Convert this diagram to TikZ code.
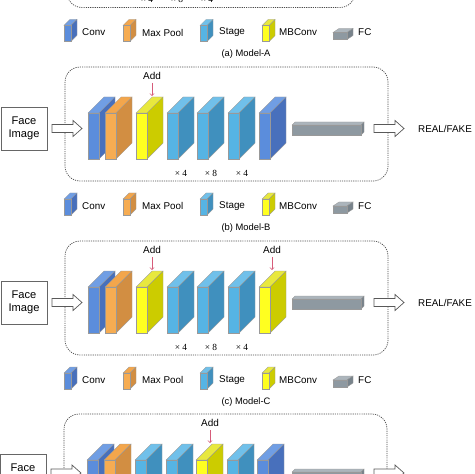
\documentclass[tikz,border=0pt]{standalone}
\usepackage{fontspec}
\setmainfont{Liberation Sans}
\newfontfamily\timesfont{Liberation Serif}

% colours of the layers (front, side, top)
\definecolor{convF}{RGB}{91,141,220}
\definecolor{convS}{RGB}{72,112,188}
\definecolor{convT}{RGB}{112,158,228}
\definecolor{poolF}{RGB}{246,172,82}
\definecolor{poolS}{RGB}{210,142,66}
\definecolor{poolT}{RGB}{243,166,76}
\definecolor{mbF}{RGB}{255,255,32}
\definecolor{mbS}{RGB}{204,204,0}
\definecolor{mbT}{RGB}{232,232,62}
\definecolor{stageF}{RGB}{86,180,228}
\definecolor{stageS}{RGB}{64,144,190}
\definecolor{stageT}{RGB}{112,192,234}
\definecolor{fcF}{RGB}{142,153,161}
\definecolor{fcS}{RGB}{120,131,139}
\definecolor{fcT}{RGB}{172,181,188}
\definecolor{addred}{RGB}{214,92,122}

\tikzset{
    face/.style={draw=black!40, line width=0.3pt},
    modelbox/.style={draw=black!70, line width=0.6pt, dash pattern=on 1pt off 0.9pt, rounded corners=4.5mm},
    imgbox/.style={draw=black!60, line width=0.8pt, minimum width=13.8mm, minimum height=12.9mm,
        align=center, inner sep=0pt, font=\fontsize{9.5}{11.5}\selectfont},
    hollow/.style={draw=black!65, fill=white, line width=0.6pt},
    addarrow/.style={->, draw=addred, line width=0.6pt},
    addlabel/.style={font=\fontsize{8.5}{10}\selectfont, inner sep=0pt},
    timeslabel/.style={font=\timesfont\fontsize{8}{10}\selectfont, inner sep=0pt},
    keylabel/.style={anchor=west, font=\fontsize{8.4}{10}\selectfont, inner sep=0pt},
    caption/.style={font=\fontsize{8}{10}\selectfont, inner sep=0pt}
}

% one 3D layer: #1 = x of its front face, #2 = colour prefix
\newcommand{\layer}[2]{%
    \draw[face, fill=#2T] (#1,113) -- ++(16,-16) -- ++(11,0) -- ++(-16,16) -- cycle;
    \draw[face, fill=#2S] (#1+11,113) -- ++(16,-16) -- ++(0,46) -- ++(-16,16) -- cycle;
    \draw[face, fill=#2F] (#1,113) rectangle ++(11,46);
}

% small icon of the key: #1 = x of its front face, #2 = colour prefix
\newcommand{\keyicon}[2]{%
    \draw[face, fill=#2T] (#1,199) -- ++(6,-6) -- ++(7,0) -- ++(-6,6) -- cycle;
    \draw[face, fill=#2S] (#1+7,199) -- ++(6,-6) -- ++(0,16) -- ++(-6,6) -- cycle;
    \draw[face, fill=#2F] (#1,199) rectangle ++(7,16);
}

% hollow block arrow: #1,#2 = its tail
\newcommand{\hollowarrow}[2]{%
    \draw[hollow] (#1,#2) ++(0,-4) -- ++(21,0) -- ++(0,-4) -- ++(9,8) -- ++(-9,8) -- ++(0,-4) -- ++(-21,0) -- cycle;
}

% the fully connected bar
\newcommand{\fcbar}{%
    \draw[face, fill=fcT] (292,125) -- ++(3,-3) -- ++(69,0) -- ++(-3,3) -- cycle;
    \draw[face, fill=fcS] (361,125) -- ++(3,-3) -- ++(0,10) -- ++(-3,3) -- cycle;
    \draw[face, fill=fcF] (292,125) rectangle (361,135);
}

% the key below each model
\newcommand{\modelkey}[1]{%
    \keyicon{64}{conv}
    \node[keylabel] at (82,206) {Conv};
    \keyicon{123}{pool}
    \node[keylabel] at (142,206) {Max Pool};
    \keyicon{200}{stage}
    \node[keylabel] at (219,206) {Stage};
    \keyicon{262}{mb}
    \node[keylabel] at (279,206) {MBConv};
    \draw[face, fill=fcT] (333,206) -- ++(6,-4) -- ++(14,0) -- ++(-6,4) -- cycle;
    \draw[face, fill=fcS] (347,206) -- ++(6,-4) -- ++(0,7) -- ++(-6,4) -- cycle;
    \draw[face, fill=fcF] (333,206) rectangle ++(14,7);
    \node[keylabel] at (358,206) {FC};
    \node[caption] at (246,228) {#1};
}

\begin{document}
\begin{tikzpicture}[x=0.3mm, y=-0.3mm]
    % Frame of the picture, in pixels of the reference
    \useasboundingbox (0,0) rectangle (474,474);
    \clip (0,0) rectangle (474,474);

    % Model-A, only its bottom is shown
    \begin{scope}[shift={(0,-173.5)}]
        \draw[modelbox] (67,67) rectangle (355,181);
        \node[timeslabel] (xA1) at (147,173) {× 4};
        \node[timeslabel] (xA2) at (177,173) {× 8};
        \node[timeslabel] (xA3) at (207,173) {× 4};
        \modelkey{(a) Model-A}
    \end{scope}

    % Model-B
    \begin{scope}
        \draw[modelbox] (65,67) rectangle (388,181);
        \node[imgbox] (faceB) at (24,128.5) {Face\\Image};
        \hollowarrow{52}{128.5}

        % Layers
        \layer{88}{conv}
        \layer{105}{pool}
        \layer{136}{mb}
        \layer{167}{stage}
        \layer{197}{stage}
        \layer{228}{stage}
        \layer{259}{conv}
        \fcbar

        % Add on top of the MBConv
        \node[addlabel] (addB) at (152,76) {Add};
        \coordinate (mbB) at (152,96);
        \draw[addarrow] (addB.south) ++(0,3) -- (mbB);

        % Repeats of the stages
        \node[timeslabel] (xB1) at (181,173) {× 4};
        \node[timeslabel] (xB2) at (211,173) {× 8};
        \node[timeslabel] (xB3) at (242,173) {× 4};

        % Output
        \hollowarrow{374}{128.5}
        \node[keylabel] (outB) at (418,129) {REAL/FAKE};

        \modelkey{(b) Model-B}
    \end{scope}

    % Model-C
    \begin{scope}[shift={(0,174)}]
        \draw[modelbox] (65,67) rectangle (388,181);
        \node[imgbox] (faceC) at (24,128.5) {Face\\Image};
        \hollowarrow{52}{128.5}

        % Layers
        \layer{88}{conv}
        \layer{105}{pool}
        \layer{136}{mb}
        \layer{167}{stage}
        \layer{197}{stage}
        \layer{228}{stage}
        \layer{259}{mb}
        \fcbar

        % Add on top of both MBConv
        \node[addlabel] (addC1) at (152,76) {Add};
        \coordinate (mbC1) at (152,96);
        \draw[addarrow] (addC1.south) ++(0,3) -- (mbC1);
        \node[addlabel] (addC2) at (272,76) {Add};
        \coordinate (mbC2) at (272,96);
        \draw[addarrow] (addC2.south) ++(0,3) -- (mbC2);

        % Repeats of the stages
        \node[timeslabel] (xC1) at (181,173) {× 4};
        \node[timeslabel] (xC2) at (211,173) {× 8};
        \node[timeslabel] (xC3) at (242,173) {× 4};

        % Output
        \hollowarrow{374}{128.5}
        \node[keylabel] (outC) at (418,129) {REAL/FAKE};

        \modelkey{(c) Model-C}
    \end{scope}

    % Model-D, only its top is shown
    \begin{scope}[shift={(0,347)}]
        \draw[modelbox] (64,67) rectangle (387,181);
        \node[imgbox] (faceD) at (23,128.5) {Face\\Image};
        \hollowarrow{51}{126}

        % Layers
        \layer{87}{conv}
        \layer{104}{pool}
        \layer{135}{stage}
        \layer{166}{stage}
        \layer{196}{mb}
        \layer{227}{stage}
        \layer{257}{conv}
        \fcbar

        % Add on top of the MBConv
        \node[addlabel] (addD) at (210,76) {Add};
        \coordinate (mbD) at (210,96);
        \draw[addarrow] (addD.south) ++(0,3) -- (mbD);

        % Output
        \hollowarrow{374}{126}
    \end{scope}

\end{tikzpicture}
\end{document}
